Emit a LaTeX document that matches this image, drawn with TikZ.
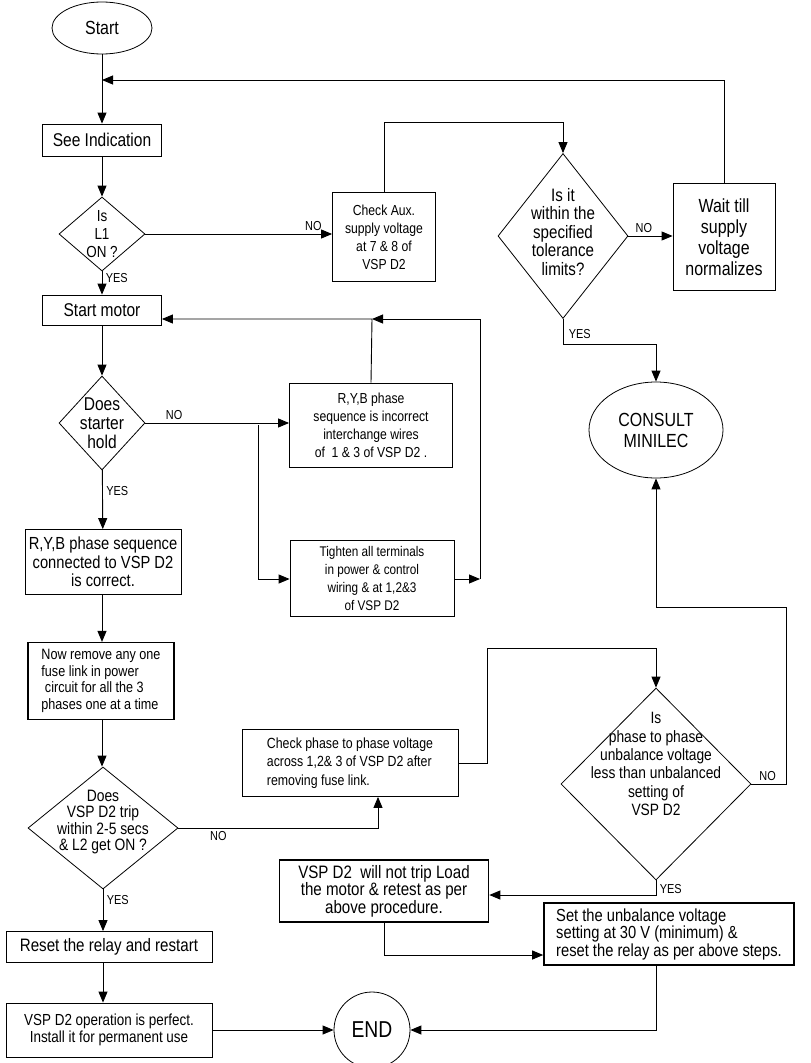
\documentclass[tikz,border=0pt]{standalone}
\usepackage{fontspec}
\setmainfont{Liberation Sans}[FakeStretch=0.84]
\usetikzlibrary{shapes.geometric,arrows.meta}
\begin{document}
\begin{tikzpicture}[x=1pt,y=-1pt,
  fs/.style={font=\fontsize{#1}{1.15*#1}\selectfont},
  every node/.style={font=\fontsize{14}{16.5}\selectfont},
  box/.style={draw,line width=0.8pt,rectangle,align=center,inner sep=1pt},
  tbox/.style={box,line width=1.6pt},
  dia/.style={draw,line width=0.8pt,diamond,inner sep=0pt},
  txt/.style={align=center,inner sep=0pt},
  ell/.style={draw,line width=0.8pt,ellipse,align=center},
  ln/.style={line width=0.9pt},
  ar/.style={ln,-{Triangle[length=11pt,width=9pt]}},
  lbl/.style={font=\fontsize{13}{15}\selectfont}]
\useasboundingbox (0,0) rectangle (811,1063);
\node[ell,minimum width=100pt,minimum height=52pt,font=\fontsize{19}{21}\selectfont] (start) at (102,28) {Start};
\node[box,minimum width=119pt,minimum height=32pt,font=\fontsize{18.5}{21}\selectfont] (see) at (102,140) {See Indication};
\node[dia,minimum width=86pt,minimum height=74pt] (l1) at (102,234) {};
\node[txt,font=\fontsize{16}{18}\selectfont] (l1t) at (l1) {Is\\L1\\ON ?};
\node[box,minimum width=103pt,minimum height=89pt,font=\fontsize{14.5}{18}\selectfont] (aux) at (384,237) {Check Aux.\\supply voltage\\at 7 \& 8 of\\VSP D2};
\node[dia,minimum width=130pt,minimum height=165pt] (tol) at (563,236) {};
\node[txt,font=\fontsize{18}{18.5}\selectfont] (tolt) at (563,232) {Is it\\within the\\specified\\tolerance\\limits?};
\node[box,minimum width=102pt,minimum height=107pt,font=\fontsize{19}{21}\selectfont] (wait) at (724,237) {Wait till\\supply\\voltage\\normalizes};
\node[box,minimum width=119pt,minimum height=30pt,font=\fontsize{18.5}{21}\selectfont] (motor) at (102,310) {Start motor};
\node[dia,minimum width=86pt,minimum height=94pt] (hold) at (102,423) {};
\node[txt,font=\fontsize{18.5}{19}\selectfont] (holdt) at (hold) {Does\\starter\\hold};
\node[box,minimum width=163pt,minimum height=84pt,font=\fontsize{14.5}{18}\selectfont] (inc) at (371,425) {R,Y,B phase\\sequence is incorrect\\interchange wires\\of \ 1 \& 3 of VSP D2 .};
\node[ell,minimum width=134pt,minimum height=96pt,font=\fontsize{19}{21}\selectfont] (consult) at (656,430) {CONSULT\\MINILEC};
\node[box,minimum width=156pt,minimum height=65pt,font=\fontsize{17.5}{18.5}\selectfont] (corr) at (103,562) {R,Y,B phase sequence\\connected to VSP D2\\is correct.};
\node[box,minimum width=164pt,minimum height=76pt,font=\fontsize{14}{18}\selectfont] (tight) at (372,578) {Tighten all terminals\\in power \& control\\wiring \& at 1,2\&3\\of VSP D2};
\node[box,line width=1.2pt,minimum width=146pt,minimum height=77pt,align=left,font=\fontsize{15}{16.5}\selectfont] (rem) at (101,681) {Now remove any one\\fuse link in power\\\ circuit for all the 3\\phases one at a time};
\node[box,minimum width=216pt,minimum height=67pt,align=left,font=\fontsize{14.7}{18.5}\selectfont] (chk) at (350,763) {Check phase to phase voltage\\across 1,2\& 3 of VSP D2 after\\removing fuse link.};
\node[dia,minimum width=150pt,minimum height=122pt] (trip) at (103,828) {};
\node[txt,font=\fontsize{16.5}{16.5}\selectfont] (tript) at (103,822) {Does\\VSP D2 trip\\within 2-5 secs\\\& L2 get ON ?};
\node[dia,minimum width=190pt,minimum height=192pt] (unb) at (656,784) {};
\node[txt,font=\fontsize{16.4}{18.3}\selectfont] (unbt) at (656,764) {Is\\phase to phase\\unbalance voltage\\less than unbalanced\\setting of\\VSP D2};
\node[tbox,minimum width=209pt,minimum height=62pt,font=\fontsize{18}{17.5}\selectfont] (notrip) at (384,891) {VSP D2 \ will not trip Load\\the motor \& retest as per\\above procedure.};
\node[tbox,minimum width=250pt,minimum height=62pt,align=left,font=\fontsize{17.5}{17.5}\selectfont] (set) at (669,934) {Set the unbalance voltage\\setting at 30 V (minimum) \&\\reset the relay as per above steps.};
\node[box,minimum width=206pt,minimum height=31pt,font=\fontsize{18}{20}\selectfont] (reset) at (109,947) {Reset the relay and restart};
\node[box,minimum width=206pt,minimum height=54pt,font=\fontsize{16}{17.5}\selectfont] (ok) at (109,1030) {VSP D2 operation is perfect.\\Install it for permanent use};
\node[ell,minimum width=76pt,minimum height=76pt,font=\fontsize{23}{25}\selectfont] (endn) at (372,1030) {END};
\coordinate (loop) at (102,80);
% connectors
\draw[ln] (start) -- (loop);
\draw[ar] (loop) -- (see);
\draw[ar] (wait.north) |- (loop);
\draw[ar] (see) -- (l1);
\draw[ar] (l1.east) -- node[lbl,pos=0.9,above]{NO} (aux.west|-l1.east);
\draw[ar] (l1) -- node[lbl,right,pos=0.3]{YES} (motor);
\draw[ar] (aux.north) |- (563,122) -- (tol.north);
\draw[ar] (tol.east) -- node[lbl,above,pos=0.35]{NO} (wait.west|-tol.east);
\draw[ar] (tol.south) |- node[lbl,pos=0.3,right,xshift=2pt]{YES} (656,344) -- (consult.north);
\draw[ar] (motor) -- (hold);
\coordinate (jn) at (372,319);
\draw[ar] (inc.north) -- (jn) -- (motor.east|-jn);
\draw[ar] (480,579) -- (480,319) -- (jn);
\draw[ar] (hold.east) -- node[lbl,above,pos=0.2]{NO} (inc.west|-hold.east);
\draw[ar] (258,425) |- (tight.west|-579,579);
\draw[ar] (tight.east|-579,579) -- (480,579);
\draw[ar] (hold) -- node[lbl,right,pos=0.35]{YES} (corr);
\draw[ar] (corr.south-|102,0) -- (rem.north-|102,0);
\draw[ar] (rem.south-|102,0) -- (trip.north-|102,0);
\draw[ar] (trip.east) -| node[lbl,below,pos=0.1]{NO} (chk.south-|378,0);
\draw[ar] (chk.east) -| (487,648) -| (unb.north);
\draw[ar] (unb.east) -| node[lbl,pos=0.12,above right,xshift=-4pt]{NO} (786,607) -| (consult.south);
\draw[ar] (unb.south) |- node[lbl,pos=0.3,right]{YES} (notrip.east|-895,895);
\draw[ar] (notrip.south) |- (set.west|-955,955);
\draw[ar] (set.south-|656,0) |- (endn.east);
\draw[ar] (trip.south) -- node[lbl,right,pos=0.25]{YES} (trip.south|-reset.north);
\draw[ar] (reset.south-|103,0) -- (ok.north-|103,0);
\draw[ar] (ok) -- (endn);
\end{tikzpicture}
\end{document}
